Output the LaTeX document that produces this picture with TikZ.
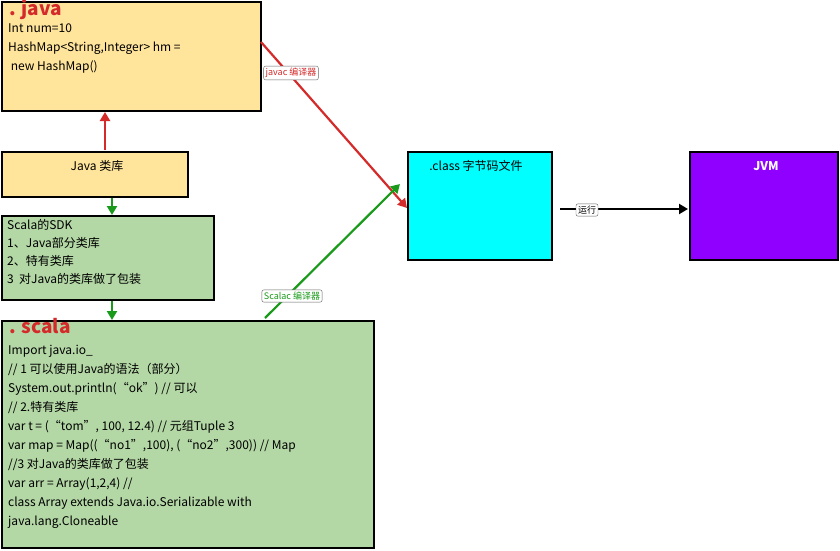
\documentclass[tikz,border=0pt]{standalone}
\usepackage{fontspec}
\setmainfont{Noto Sans CJK SC}
\usetikzlibrary{arrows.meta}
\definecolor{yel}{HTML}{FFE49C}
\definecolor{grn}{HTML}{B3D7A5}
\definecolor{cya}{HTML}{00FFFF}
\definecolor{pur}{HTML}{8F00FF}
\definecolor{rd}{HTML}{D42A2A}
\definecolor{gr}{HTML}{1A9A1A}
\begin{document}
\begin{tikzpicture}[x=1pt,y=-1pt,
 box/.style={draw=black,line width=1.3pt,inner sep=0pt},
 txt/.style={font=\fontsize{12}{19}\selectfont,align=left,anchor=north west,inner sep=0pt},
 ttl/.style={font=\fontsize{19}{19}\selectfont\bfseries,text=rd,anchor=north west,inner sep=0pt},
 lab/.style={draw=black!60,fill=white,rounded corners=2pt,font=\fontsize{9}{10}\selectfont,inner sep=2pt},
 arr/.style={line width=2.2pt,-{Triangle[length=9pt,width=10pt]}}]
\useasboundingbox (0,0) rectangle (840,551);
\fill[white] (0,0) rectangle (840,551);
\draw[box,fill=yel] (2,2) rectangle (261,111);
\node[ttl] (jt) at (9,0) {. java};
\node[txt] (jb) at (8,24) {Int num=10\\HashMap<String,Integer> hm =\\ \ new HashMap()};
\draw[box,fill=yel] (2,152) rectangle (188,197);
\node[font=\fontsize{12}{14}\selectfont] (jl) at (97,166) {Java 类库};
\draw[box,fill=grn] (2,216) rectangle (214,300);
\node[txt,font=\fontsize{12}{18}\selectfont] (sdk) at (7,219) {Scala的SDK\\1、Java部分类库\\2、特有类库\\3\ \ 对Java的类库做了包装};
\draw[box,fill=grn] (2,321) rectangle (374,548);
\node[ttl] (st) at (9,318) {. scala};
\node[txt] (sb) at (8,345) {Import java.io\_\\// 1 可以使用Java的语法（部分）\\System.out.println(“ok”) // 可以\\// 2.特有类库\\var t = (“tom”, 100, 12.4) // 元组Tuple 3\\var map = Map((“no1”,100), (“no2”,300)) // Map\\//3 对Java的类库做了包装\\var arr = Array(1,2,4) //\\class Array extends Java.io.Serializable with\\java.lang.Cloneable};
\draw[box,fill=cya] (408,152) rectangle (552,260);
\node[font=\fontsize{12}{14}\selectfont] (cl) at (476,166) {.class 字节码文件};
\draw[box,fill=pur] (690,152) rectangle (838,260);
\node[font=\fontsize{12}{14}\selectfont\bfseries,text=white] (jvm) at (766,166) {JVM};
\coordinate (a1) at (261,42); \coordinate (a2) at (407,208);
\draw[arr,rd] (a1) -- (a2);
\node[lab,text=rd] (l1) at (291,73) {javac 编译器};
\coordinate (b1) at (105,150); \coordinate (b2) at (105,112);
\draw[arr,rd] (b1) -- (b2);
\coordinate (c1) at (112,198); \coordinate (c2) at (112,215);
\draw[arr,gr] (c1) -- (c2);
\coordinate (d1) at (112,301); \coordinate (d2) at (112,320);
\draw[arr,gr] (d1) -- (d2);
\coordinate (e1) at (265,318); \coordinate (e2) at (400,184);
\draw[arr,gr] (e1) -- (e2);
\node[lab,text=gr] (l2) at (292,296) {Scalac 编译器};
\coordinate (f1) at (560,209); \coordinate (f2) at (688,209);
\draw[arr,black] (f1) -- (f2);
\node[lab] (l3) at (587,210) {运行};
\end{tikzpicture}
\end{document}
